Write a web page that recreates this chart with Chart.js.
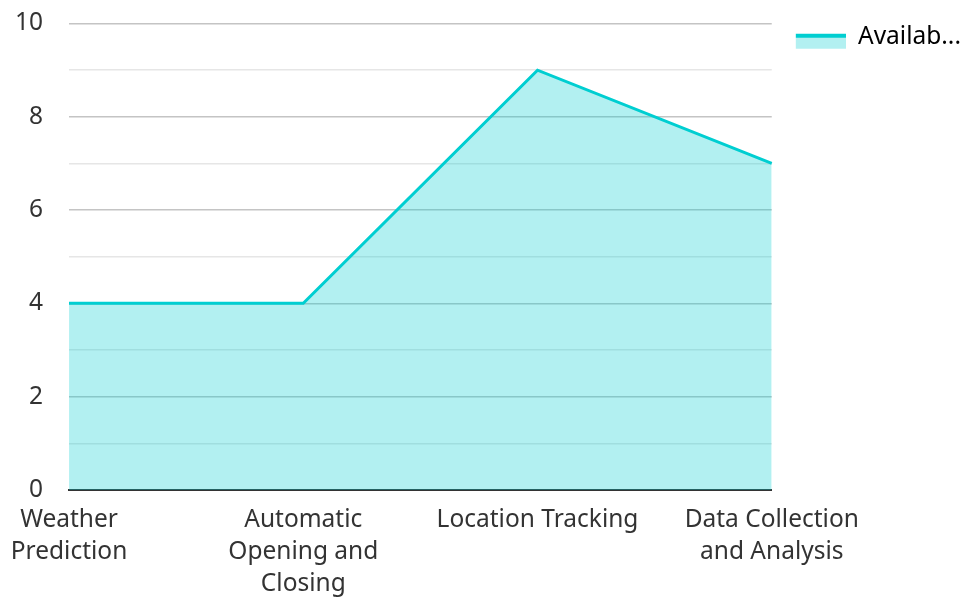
<!DOCTYPE html>
<html>
<head>
<meta charset="utf-8">
<script src="https://cdn.jsdelivr.net/npm/chart.js@4/dist/chart.umd.min.js"></script>
<style>
  html, body { margin: 0; padding: 0; background: #fff; }
  #wrap { width: 961px; height: 597px; position: relative; }
</style>
</head>
<body>
<div id="wrap"><canvas id="c" width="961" height="597"></canvas></div>
<script>
const categories = [
  ["Weather", "Prediction"],
  ["Automatic", "Opening and", "Closing"],
  ["Location Tracking"],
  ["Data Collection", "and Analysis"]
];
const seriesName = "Availability";
const seriesValues = [4, 4, 9, 7];
const yTickLabels = [0, 2, 4, 6, 8, 10];

const lineColor = "#00CED1";
const fillColor = "rgba(0,206,209,0.3)";
const FONT = 24.5;

// legend swatch: transparent gap, then line on top and filled area below
const sw = document.createElement("canvas");
sw.width = 73; sw.height = 30;
const sctx = sw.getContext("2d");
sctx.fillStyle = fillColor;
sctx.fillRect(23, 12, 50, 15);
sctx.fillStyle = lineColor;
sctx.fillRect(23, 12, 50, 4);

Chart.defaults.font.family = "'Noto Sans', sans-serif";
Chart.defaults.color = "#333";

new Chart(document.getElementById("c"), {
  type: "line",
  data: {
    labels: categories,
    datasets: [{
      label: seriesName,
      data: seriesValues,
      borderColor: lineColor,
      backgroundColor: fillColor,
      borderWidth: 3,
      fill: "origin",
      tension: 0,
      pointRadius: 0,
      pointHoverRadius: 0
    }]
  },
  options: {
    responsive: false,
    animation: false,
    layout: { padding: { left: 15, top: 23.5, right: -10, bottom: -2.5 } },
    plugins: {
      tooltip: { enabled: false },
      legend: {
        position: "right",
        align: "start",
        labels: {
          usePointStyle: true,
          pointStyle: sw,
          pointStyleWidth: 73,
          boxHeight: FONT,
          padding: 1,
          color: "#333",
          font: { size: FONT },
          generateLabels(chart) {
            return chart.data.datasets.map((ds, i) => ({
              text: ds.label.length > 7 ? ds.label.slice(0, 7) + "..." : ds.label,
              pointStyle: sw,
              fillStyle: fillColor,
              strokeStyle: lineColor,
              lineWidth: 0,
              hidden: false,
              datasetIndex: i
            }));
          }
        }
      }
    },
    scales: {
      x: {
        offset: false,
        grid: { display: true, drawOnChartArea: false, drawTicks: true, tickLength: 14, tickColor: "rgba(0,0,0,0)" },
        border: { display: true, color: "#333", width: 2 },
        ticks: {
          padding: 0,
          maxRotation: 0,
          autoSkip: false,
          color: "#333",
          font: { size: FONT, lineHeight: 1.3 }
        }
      },
      y: {
        min: 0,
        max: 10,
        border: { display: false },
        grid: {
          drawTicks: true,
          tickLength: 26,
          tickColor: "rgba(0,0,0,0)",
          lineWidth: 1.5,
          color: (ctx) => (ctx.tick && yTickLabels.includes(ctx.tick.value)) ? "#c4c4c4" : "#e6e6e6"
        },
        ticks: {
          stepSize: 1,
          padding: 0,
          color: "#333",
          font: { size: FONT },
          callback: (v) => yTickLabels.includes(v) ? String(v) : ""
        }
      }
    }
  }
});
</script>
</body>
</html>
